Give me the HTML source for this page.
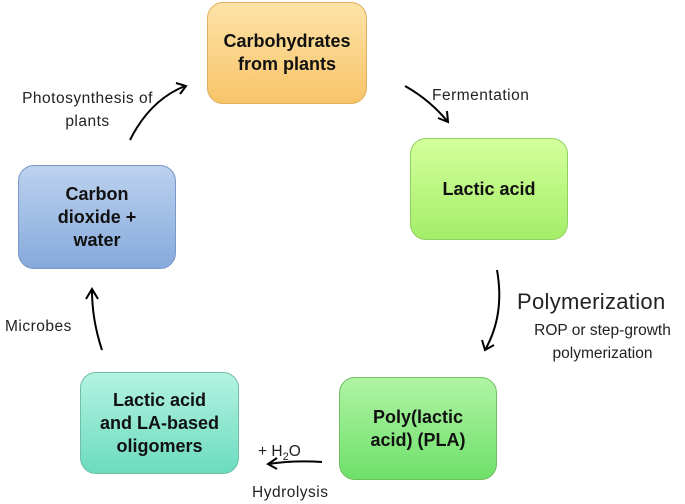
<!DOCTYPE html><html><head><style>
body{margin:0;width:685px;height:502px;background:#fff;position:relative;font-family:"Liberation Sans",sans-serif;overflow:hidden}
.b{position:absolute;border-radius:16px;border:1px solid #aaa;display:flex;align-items:center;justify-content:center;text-align:center;font-weight:bold;font-size:18px;line-height:23px;color:#111;box-sizing:border-box}
.t{position:absolute;font-size:15.5px;color:#222;text-align:center;line-height:23px;white-space:nowrap}
</style></head><body>
<div class="b" style="left:207px;top:2px;width:160px;height:102px;background:linear-gradient(#fde3a8,#f8c469);border-color:#e0b060">Carbohydrates<br>from plants</div>
<div class="b" style="left:410px;top:138px;width:158px;height:102px;background:linear-gradient(#d4ff9c,#a4ee68);border-color:#90d060">Lactic acid</div>
<div class="b" style="left:339px;top:377px;width:158px;height:103px;background:linear-gradient(#b0f4a4,#6ee06a);border-color:#70c060">Poly(lactic<br>acid) (PLA)</div>
<div class="b" style="left:80px;top:372px;width:159px;height:102px;background:linear-gradient(#b4f2e2,#6cdcbe);border-color:#70c0a8">Lactic acid<br>and LA-based<br>oligomers</div>
<div class="b" style="left:18px;top:165px;width:158px;height:104px;background:linear-gradient(#bcd2ee,#86a9dc);border-color:#7a98c8">Carbon<br>dioxide +<br>water</div>
<div class="t" style="left:0;top:87px;width:175px;letter-spacing:0.5px">Photosynthesis of<br>plants</div>
<div class="t" style="left:432px;top:84px;letter-spacing:0.5px">Fermentation</div>
<div class="t" style="left:517px;top:288px;font-size:22px;line-height:28px;letter-spacing:0.3px">Polymerization</div>
<div class="t" style="left:520px;top:319px;width:165px">ROP or step-growth<br>polymerization</div>
<div class="t" style="left:5px;top:315px;letter-spacing:0.5px">Microbes</div>
<div class="t" style="left:258px;top:440px">+ H<sub style="font-size:11px">2</sub>O</div>
<div class="t" style="left:252px;top:481px;letter-spacing:0.5px">Hydrolysis</div>
<svg width="685" height="502" style="position:absolute;left:0;top:0" fill="none" stroke="#000" stroke-width="2">
<path d="M130 140 Q150 100 185 86"/><path d="M176 83 L186 86 L180 94"/>
<path d="M405 86 Q430 100 448 122"/><path d="M438 118 L448 122 L447 111"/>
<path d="M497 270 Q505 315 485 350"/><path d="M482 340 L485 350 L494 345"/>
<path d="M322 462 Q295 460 268 464"/><path d="M277 458 L268 464 L277 469"/>
<path d="M102 350 Q92 320 92 290"/><path d="M86 299 L92 289 L98 299"/>
</svg>
</body></html>
